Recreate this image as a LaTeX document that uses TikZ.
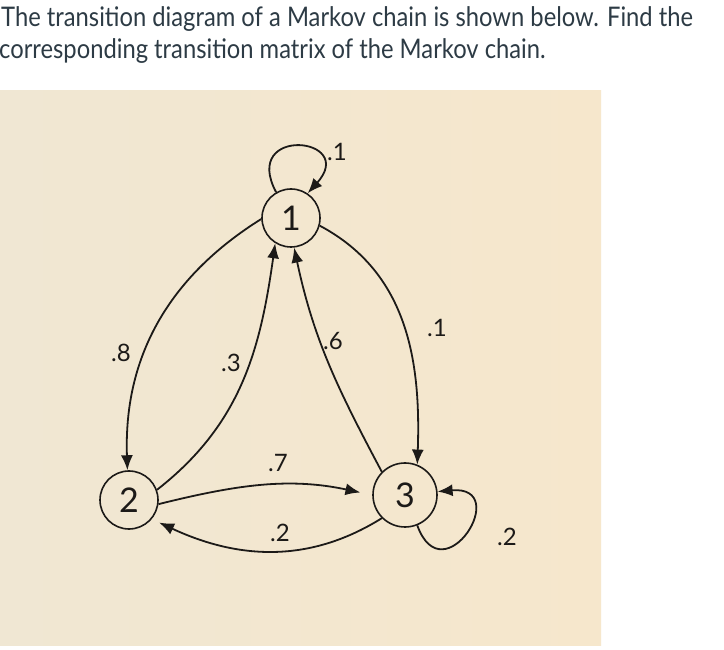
\documentclass[tikz,border=0pt]{standalone}
\usepackage{fontspec}
\setmainfont{Lato}
\newfontfamily\headfont[FakeStretch=0.88]{Lato}
\usetikzlibrary{arrows.meta,positioning}
\definecolor{ink}{RGB}{28,26,24}
\definecolor{headtext}{RGB}{45,59,69}
\definecolor{paperl}{RGB}{240,231,211}
\definecolor{paperr}{RGB}{246,231,204}
\tikzstyle{edge}=[
	-{Latex[length=15pt,width=12pt]},
	draw=ink,
	line width=1.8pt
]
\tikzstyle{vertex}=[
	circle,
	draw=ink,
	line width=1.6pt,
	minimum size=58pt,
	inner sep=0pt,
	node distance=15mm,
	on grid,
	text=ink,
	font=\fontsize{34}{34}\selectfont
]
\tikzstyle{prob}=[
	text=ink,
	inner sep=0pt,
	font=\fontsize{24}{24}\selectfont
]
\tikzstyle{head}=[
	anchor=base west,
	inner sep=0pt,
	text=headtext,
	font=\headfont\fontsize{27}{27}\selectfont
]
\begin{document}
\begin{tikzpicture}[x=1pt,y=1pt]
\useasboundingbox (0,0) rectangle (724,649);
\fill[white] (0,0) rectangle (724,649);
\shade[left color=paperl, right color=paperr] (0,4) rectangle (601,558);

\node[head] (line1) at (1,622) {The transition diagram of a Markov chain is shown below. Find the};
\node[head] (line2) at (-1,590) {corresponding transition matrix of the Markov chain.};

\node[vertex] (1) at (291,431) {1};
\node[vertex, below left=282pt and 162pt of 1] (2) {2};
\node[vertex, below right=277pt and 114pt of 1, minimum size=64pt] (3) {3};

% loops
\draw[edge] (1.120) .. controls +(118:76pt) and +(48:76pt) .. (1.56);
\draw[edge] (3.-68) .. controls +(-70:76pt) and +(5:76pt) .. (3.6);

% between the states
\draw[edge] (1.182) to[out=212, in=92] (2.93);
\draw[edge] (2.20) to[out=38, in=262] (1.238);
\draw[edge] (3.135) to[out=118, in=282] (1.276);
\draw[edge] (1.-15) to[out=-28, in=88] (3.68);
\draw[edge, shorten >=12pt] (2.-8) to[out=14, in=168] (3.180);
\draw[edge, shorten >=8pt] (3.225) to[out=212, in=-25] (2.-40);

% probabilities
\node[prob] (p11) at (337,497) {.1};
\node[prob] (p12) at (121,296) {.8};
\node[prob] (p21) at (231,286) {.3};
\node[prob] (p31) at (333,308) {.6};
\node[prob] (p13) at (437,321) {.1};
\node[prob] (p23) at (278,186) {.7};
\node[prob] (p32) at (280,116) {.2};
\node[prob] (p33) at (507,112) {.2};
\end{tikzpicture}
\end{document}
